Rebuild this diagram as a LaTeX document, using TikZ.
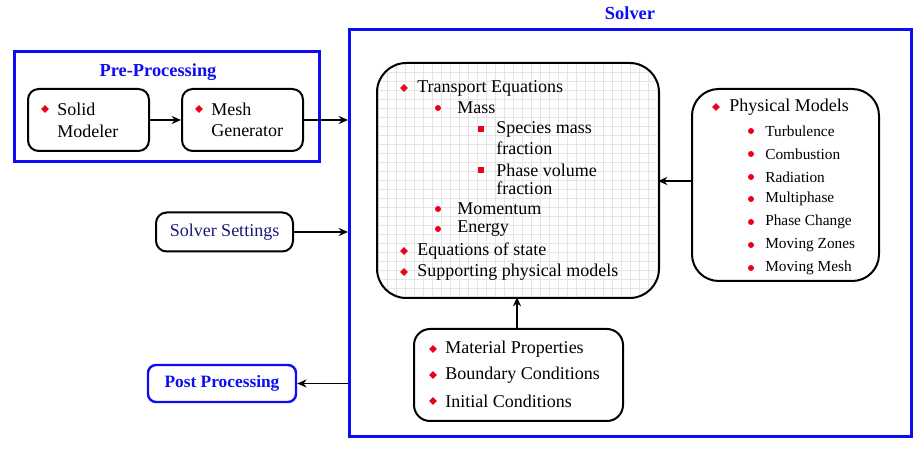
\documentclass[tikz,border=0pt]{standalone}
\usepackage{fontspec}
\setmainfont{Liberation Serif}
\usetikzlibrary{arrows.meta,shapes.geometric}
\definecolor{bblue}{rgb}{0.05,0.05,0.95}
\definecolor{navy}{rgb}{0.1,0.1,0.45}
\definecolor{mred}{rgb}{0.93,0.0,0.1}
\begin{document}
\begin{tikzpicture}[x=0.75pt,y=-0.75pt,
  blk/.style={draw,line width=1.5pt,rounded corners=8pt},
  bluebox/.style={draw=bblue,line width=2.5pt},
  arr/.style={-{Stealth[length=7pt,width=6pt]},line width=1.4pt},
  txt/.style={anchor=west,inner sep=0pt,font=\fontsize{13.5}{14}\selectfont},
  sub/.style={anchor=west,inner sep=0pt,font=\fontsize{11.5}{12}\selectfont},
  dia/.style={fill=mred,shape=diamond,inner sep=0pt,minimum size=6pt},
  dot/.style={fill=mred,circle,inner sep=0pt,minimum size=4.5pt},
  sq/.style={fill=mred,rectangle,inner sep=0pt,minimum size=5pt}]
\useasboundingbox (0,0) rectangle (921,459);
% solver frame
\node[bluebox,minimum width=562*0.75pt,minimum height=407*0.75pt,anchor=north west] (solver) at (348,28) {};
\node[font=\bfseries\fontsize{13.8}{14}\selectfont,text=bblue] (solvt) at (630,13) {Solver};
% pre-processing
\node[bluebox,minimum width=305*0.75pt,minimum height=110*0.75pt,anchor=north west] (pre) at (13,50) {};
\node[font=\bfseries\fontsize{13.8}{14}\selectfont,text=bblue] (pret) at (158,72) {Pre-Processing};
\node[blk,minimum width=121*0.75pt,minimum height=62*0.75pt,anchor=north west] (solid) at (27,88) {};
\node[blk,minimum width=121*0.75pt,minimum height=62*0.75pt,anchor=north west] (mesh) at (181,88) {};
\node[dia] (d1) at (45,109) {};
\node[txt] (t1) at (57,109) {Solid};
\node[txt] (t2) at (57,131) {Modeler};
\node[dia] (d2) at (199,109) {};
\node[txt] (t3) at (211,109) {Mesh};
\node[txt] (t4) at (211,131) {Generator};
\draw[arr] (solid.east) -- (mesh.west);
\draw[arr] (mesh.east) -- (solver.west |- mesh.east);
% solver settings
\node[blk,minimum width=137*0.75pt,minimum height=39*0.75pt,text=navy,font=\fontsize{13.5}{14}\selectfont] (set) at (224.5,232) {Solver Settings};
\draw[arr] (set.east) -- (solver.west |- set.east);
% post processing
\node[draw=bblue,line width=1.8pt,rounded corners=6pt,minimum width=148*0.75pt,minimum height=37*0.75pt,text=bblue,font=\bfseries\fontsize{13}{14}\selectfont] (post) at (222,383.5) {Post Processing};
\coordinate (sa) at (348,383.5);
\draw[arr] (sa) -- (post.east);
% transport box with grid
\begin{scope}
\clip[rounded corners=22pt] (376,62) rectangle (658,297);
\draw[black!10,line width=0.4pt,step=9*0.75pt,xshift=0.5pt] (376,62) grid (658,297);
\end{scope}
\node[blk,rounded corners=22pt,minimum width=282*0.75pt,minimum height=235*0.75pt,anchor=north west] (tr) at (376,62) {};
\node[dia] at (404,88) {}; \node[txt] (a1) at (417,88) {Transport Equations};
\node[dot] at (438,108) {}; \node[txt] (a2) at (457,108) {Mass};
\node[sq] at (481,129) {}; \node[txt] (a3) at (496,129) {Species mass};
\node[txt] (a4) at (496,148) {fraction};
\node[sq] at (481,170) {}; \node[txt] (a5) at (496,170) {Phase volume};
\node[txt] (a6) at (496,188) {fraction};
\node[dot] at (438,209) {}; \node[txt] (a7) at (457,209) {Momentum};
\node[dot] at (438,229) {}; \node[txt] (a8) at (457,229) {Energy};
\node[dia] at (404,251) {}; \node[txt] (a9) at (417,251) {Equations of state};
\node[dia] at (404,272) {}; \node[txt] (a10) at (417,272) {Supporting physical models};
% physical models
\node[blk,rounded corners=20pt,minimum width=187*0.75pt,minimum height=192*0.75pt,anchor=north west] (phys) at (691,88) {};
\node[dia] at (716,107) {}; \node[txt] (p0) at (729,107) {Physical Models};
\foreach \y/\t [count=\i] in {131/Turbulence,154/Combustion,177/Radiation,199/Multiphase,222/Phase Change,245/Moving Zones,268/Moving Mesh}{
  \node[dot] at (751,\y) {}; \node[sub] (p\i) at (765,\y) {\t};}
\coordinate (pa) at (691,181);
\coordinate (pb) at (658,181);
\draw[arr] (pa) -- (pb);
% material
\node[blk,rounded corners=12pt,minimum width=209*0.75pt,minimum height=92*0.75pt,anchor=north west] (mat) at (413,328) {};
\node[dia] at (433,349) {}; \node[txt] (m1) at (445,349) {Material Properties};
\node[dia] at (433,375) {}; \node[txt] (m2) at (445,375) {Boundary Conditions};
\node[dia] at (433,401) {}; \node[txt] (m3) at (445,401) {Initial Conditions};
\coordinate (ma) at (517,328);
\coordinate (mb) at (517,297);
\draw[arr] (ma) -- (mb);
\end{tikzpicture}
\end{document}
